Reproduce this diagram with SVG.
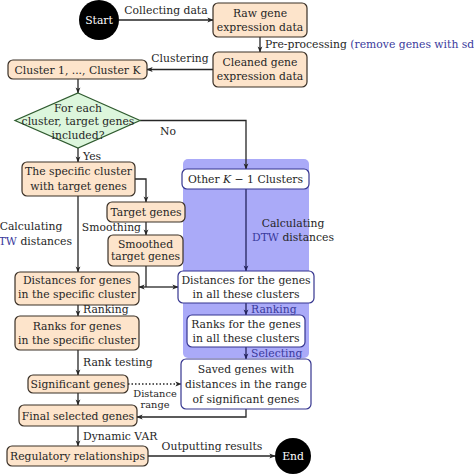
<svg xmlns="http://www.w3.org/2000/svg" width="474" height="474" viewBox="0 0 474 474">
<style>
text{font-family:"DejaVu Serif","Noto Serif",serif;font-size:10.8px;fill:#262626}
.c{text-anchor:middle}
.w{fill:#ffffff}
.b{fill:#3a3a9c}
.sm{font-size:9.8px}
.box{fill:#fde4cb;stroke:#3a3026;stroke-width:1.2}
.bbox{fill:#ffffff;stroke:#35358f;stroke-width:1.2}
.ln{fill:none;stroke:#262626;stroke-width:1.3}
.bl{fill:none;stroke:#24245c;stroke-width:1.3}
</style>
<defs>
<marker id="a" viewBox="0 0 8 8" refX="7.5" refY="4" markerWidth="6" markerHeight="6" orient="auto" markerUnits="userSpaceOnUse">
<path d="M0,0.8 L8,4 L0,7.2 L2,4 Z" fill="#262626"/>
</marker>
<marker id="ab" viewBox="0 0 8 8" refX="7.5" refY="4" markerWidth="6" markerHeight="6" orient="auto" markerUnits="userSpaceOnUse">
<path d="M0,0.8 L8,4 L0,7.2 L2,4 Z" fill="#24245c"/>
</marker>
</defs>
<rect id="band" x="183" y="159" width="126" height="199" rx="5" fill="#aaaaf8"/>
<g id="connectors">
<line class="ln" x1="119" y1="20" x2="213" y2="20" marker-end="url(#a)"/>
<line class="ln" x1="260" y1="37" x2="260" y2="52" marker-end="url(#a)"/>
<line class="ln" x1="213" y1="69.5" x2="147" y2="69.5" marker-end="url(#a)"/>
<line class="ln" x1="78" y1="79" x2="78" y2="93" marker-end="url(#a)"/>
<polyline class="ln" points="140,120.5 246,120.5 246,169" marker-end="url(#a)"/>
<line class="ln" x1="78" y1="148" x2="78" y2="162" marker-end="url(#a)"/>
<polyline class="ln" points="135,179 146,179 146,202" marker-end="url(#a)"/>
<line class="ln" x1="146" y1="222" x2="146" y2="235" marker-end="url(#a)"/>
<line class="ln" x1="146" y1="266" x2="146" y2="287"/>
<line class="ln" x1="146" y1="287" x2="139" y2="287" marker-end="url(#a)"/>
<line class="ln" x1="146" y1="287" x2="178" y2="287" marker-end="url(#a)"/>
<line class="ln" x1="78" y1="196" x2="78" y2="272" marker-end="url(#a)"/>
<line class="ln" x1="78" y1="305" x2="78" y2="316" marker-end="url(#a)"/>
<line class="ln" x1="78" y1="350" x2="78" y2="375" marker-end="url(#a)"/>
<line class="ln" x1="128" y1="384" x2="181" y2="384" stroke-dasharray="1.5,2" marker-end="url(#a)"/>
<line class="ln" x1="78" y1="393" x2="78" y2="405" marker-end="url(#a)"/>
<polyline class="ln" points="246,409 246,417 137,417" stroke-width="1.6" marker-end="url(#a)"/>
<line class="ln" x1="78" y1="426" x2="78" y2="446" marker-end="url(#a)"/>
<line class="ln" x1="148" y1="456" x2="275" y2="456" stroke-width="1.6" marker-end="url(#a)"/>
<line class="bl" x1="246" y1="189" x2="246" y2="271" marker-end="url(#ab)"/>
<line class="bl" x1="246" y1="303" x2="246" y2="315" marker-end="url(#ab)"/>
<line class="bl" x1="246" y1="347" x2="246" y2="359" marker-end="url(#ab)"/>
</g>
<g id="labels">
<text class="c" x="166" y="13.5">Collecting data</text>
<text x="265" y="48">Pre-processing <tspan class="b">(remove genes with sd</tspan></text>
<text class="c" x="180" y="62">Clustering</text>
<text class="c" x="168" y="135">No</text>
<text x="83" y="160">Yes</text>
<text x="141" y="231" text-anchor="end">Smoothing</text>
<text class="c" x="31" y="230">Calculating</text>
<text class="c" x="31" y="245"><tspan class="b">DTW</tspan> distances</text>
<text x="83" y="313">Ranking</text>
<text x="83" y="366">Rank testing</text>
<text class="c sm" x="155" y="397">Distance</text>
<text class="c sm" x="155" y="407.5">range</text>
<text x="83" y="440">Dynamic VAR</text>
<text class="c" x="212" y="450">Outputting results</text>
<text class="c" x="293" y="227" fill="#2a2a5c">Calculating</text>
<text class="c" x="293" y="241"><tspan class="b">DTW</tspan> distances</text>
<text class="b" x="251" y="313">Ranking</text>
<text class="b" x="251" y="357">Selecting</text>
</g>
<g id="start"><circle cx="99" cy="20" r="20" fill="#000"/><text class="c w" x="99" y="24">Start</text></g>
<g id="raw"><rect class="box" x="213" y="3" width="94" height="34" rx="5"/><text class="c" x="260" y="17">Raw gene</text><text class="c" x="260" y="31">expression data</text></g>
<g id="cleaned"><rect class="box" x="213" y="52" width="94" height="35" rx="5"/><text class="c" x="260" y="66">Cleaned gene</text><text class="c" x="260" y="80">expression data</text></g>
<g id="clusters"><rect class="box" x="8" y="60" width="139" height="19" rx="5"/><text class="c" x="77.5" y="73.5">Cluster 1, ..., Cluster K</text></g>
<g id="decision"><polygon points="78,93 140,120.5 78,148 15,120.5" fill="#dcf6dc" stroke="#2e5a2e" stroke-width="1.2"/><text class="c" x="78" y="111.5">For each</text><text class="c" x="78" y="125">cluster, target genes</text><text class="c" x="78" y="138.5">included?</text></g>
<g id="specific"><rect class="box" x="22" y="162" width="113" height="34" rx="5"/><text class="c" x="78.5" y="175">The specific cluster</text><text class="c" x="78.5" y="190">with target genes</text></g>
<g id="target"><rect class="box" x="107" y="202" width="78" height="20" rx="5"/><text class="c" x="146" y="215.5">Target genes</text></g>
<g id="smoothed"><rect class="box" x="108" y="235" width="75" height="31" rx="5"/><text class="c" x="145.5" y="247.5">Smoothed</text><text class="c" x="145.5" y="260">target genes</text></g>
<g id="dist1"><rect class="box" x="15" y="272" width="124" height="33" rx="5"/><text class="c" x="77" y="284">Distances for genes</text><text class="c" x="77" y="298">in the specific cluster</text></g>
<g id="ranks1"><rect class="box" x="15" y="316" width="124" height="34" rx="5"/><text class="c" x="77" y="329.5">Ranks for genes</text><text class="c" x="77" y="344">in the specific cluster</text></g>
<g id="significant"><rect class="box" x="28" y="375" width="100" height="18" rx="5"/><text class="c" x="78" y="387.5">Significant genes</text></g>
<g id="final"><rect class="box" x="19" y="405" width="118" height="21" rx="5"/><text class="c" x="78" y="419.5">Final selected genes</text></g>
<g id="regulatory"><rect class="box" x="7" y="446" width="141" height="20" rx="5"/><text class="c" x="77.5" y="459.5">Regulatory relationships</text></g>
<g id="end"><circle cx="293" cy="456" r="18" fill="#000"/><text class="c w" x="293" y="460">End</text></g>
<g id="other"><rect class="bbox" x="182" y="169" width="127" height="20" rx="5"/><text class="c" x="245.5" y="182.5">Other <tspan font-style="italic">K</tspan> − 1 Clusters</text></g>
<g id="dist2"><rect class="bbox" x="178" y="271" width="136" height="32" rx="5"/><text class="c" x="246" y="283.5">Distances for the genes</text><text class="c" x="246" y="298">in all these clusters</text></g>
<g id="ranks2"><rect class="bbox" x="187" y="315" width="118" height="32" rx="5"/><text class="c" x="246" y="327.5">Ranks for the genes</text><text class="c" x="246" y="342">in all these clusters</text></g>
<g id="saved"><rect class="bbox" x="181" y="359" width="130" height="50" rx="5"/><text class="c" x="246" y="372.5">Saved genes with</text><text class="c" x="246" y="387.5">distances in the range</text><text class="c" x="246" y="402.5">of significant genes</text></g>
</svg>
